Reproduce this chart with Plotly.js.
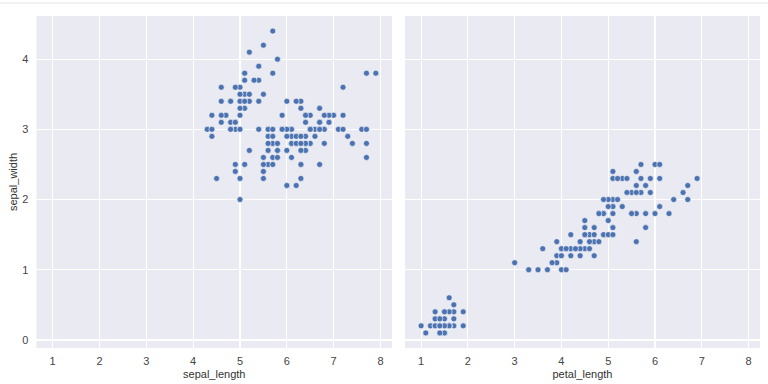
<!DOCTYPE html>
<html><head><meta charset="utf-8">
<script src="https://cdn.plot.ly/plotly-3.0.1.min.js"></script>
<style>html,body{margin:0;padding:0;background:#fff;}#chart{width:768px;height:384px;}</style>
</head><body><div id="chart"></div>
<script>
const sepal_length=[5.1,4.9,4.7,4.6,5.0,5.4,4.6,5.0,4.4,4.9,5.4,4.8,4.8,4.3,5.8,5.7,5.4,5.1,5.7,5.1,5.4,5.1,4.6,5.1,4.8,5.0,5.0,5.2,5.2,4.7,4.8,5.4,5.2,5.5,4.9,5.0,5.5,4.9,4.4,5.1,5.0,4.5,4.4,5.0,5.1,4.8,5.1,4.6,5.3,5.0,
7.0,6.4,6.9,5.5,6.5,5.7,6.3,4.9,6.6,5.2,5.0,5.9,6.0,6.1,5.6,6.7,5.6,5.8,6.2,5.6,5.9,6.1,6.3,6.1,6.4,6.6,6.8,6.7,6.0,5.7,5.5,5.5,5.8,6.0,5.4,6.0,6.7,6.3,5.6,5.5,5.5,6.1,5.8,5.0,5.6,5.7,5.7,6.2,5.1,5.7,
6.3,5.8,7.1,6.3,6.5,7.6,4.9,7.3,6.7,7.2,6.5,6.4,6.8,5.7,5.8,6.4,6.5,7.7,7.7,6.0,6.9,5.6,7.7,6.3,6.7,7.2,6.2,6.1,6.4,7.2,7.4,7.9,6.4,6.3,6.1,7.7,6.3,6.4,6.0,6.9,6.7,6.9,5.8,6.8,6.7,6.7,6.3,6.5,6.2,5.9];
const sepal_width=[3.5,3.0,3.2,3.1,3.6,3.9,3.4,3.4,2.9,3.1,3.7,3.4,3.0,3.0,4.0,4.4,3.9,3.5,3.8,3.8,3.4,3.7,3.6,3.3,3.4,3.0,3.4,3.5,3.4,3.2,3.1,3.4,4.1,4.2,3.1,3.2,3.5,3.6,3.0,3.4,3.5,2.3,3.2,3.5,3.8,3.0,3.8,3.2,3.7,3.3,
3.2,3.2,3.1,2.3,2.8,2.8,3.3,2.4,2.9,2.7,2.0,3.0,2.2,2.9,2.9,3.1,3.0,2.7,2.2,2.5,3.2,2.8,2.5,2.8,2.9,3.0,2.8,3.0,2.9,2.6,2.4,2.4,2.7,2.7,3.0,3.4,3.1,2.3,3.0,2.5,2.6,3.0,2.6,2.3,2.7,3.0,2.9,2.9,2.5,2.8,
3.3,2.7,3.0,2.9,3.0,3.0,2.5,2.9,2.5,3.6,3.2,2.7,3.0,2.5,2.8,3.2,3.0,3.8,2.6,2.2,3.2,2.8,2.8,2.7,3.3,3.2,2.8,3.0,2.8,3.0,2.8,3.8,2.8,2.8,2.6,3.0,3.4,3.1,3.0,3.1,3.1,3.1,2.7,3.2,3.3,3.0,2.5,3.0,3.4,3.0];
const petal_length=[1.4,1.4,1.3,1.5,1.4,1.7,1.4,1.5,1.4,1.5,1.5,1.6,1.4,1.1,1.2,1.5,1.3,1.4,1.7,1.5,1.7,1.5,1.0,1.7,1.9,1.6,1.6,1.5,1.4,1.6,1.6,1.5,1.5,1.4,1.5,1.2,1.3,1.4,1.3,1.5,1.3,1.3,1.3,1.6,1.9,1.4,1.6,1.4,1.5,1.4,
4.7,4.5,4.9,4.0,4.6,4.5,4.7,3.3,4.6,3.9,3.5,4.2,4.0,4.7,3.6,4.4,4.5,4.1,4.5,3.9,4.8,4.0,4.9,4.7,4.3,4.4,4.8,5.0,4.5,3.5,3.8,3.7,3.9,5.1,4.5,4.5,4.7,4.4,4.1,4.0,4.4,4.6,4.0,3.3,4.2,4.2,4.2,4.3,3.0,4.1,
6.0,5.1,5.9,5.6,5.8,6.6,4.5,6.3,5.8,6.1,5.1,5.3,5.5,5.0,5.1,5.3,5.5,6.7,6.9,5.0,5.7,4.9,6.7,4.9,5.7,6.0,4.8,4.9,5.6,5.8,6.1,6.4,5.6,5.1,5.6,6.1,5.6,5.5,4.8,5.4,5.6,5.1,5.1,5.9,5.7,5.2,5.0,5.2,5.4,5.1];
const petal_width=[0.2,0.2,0.2,0.2,0.2,0.4,0.3,0.2,0.2,0.1,0.2,0.2,0.1,0.1,0.2,0.4,0.4,0.3,0.3,0.3,0.2,0.4,0.2,0.5,0.2,0.2,0.4,0.2,0.2,0.2,0.2,0.4,0.1,0.2,0.2,0.2,0.2,0.1,0.2,0.2,0.3,0.3,0.2,0.6,0.4,0.3,0.2,0.2,0.2,0.2,
1.4,1.5,1.5,1.3,1.5,1.3,1.6,1.0,1.3,1.4,1.0,1.5,1.0,1.4,1.3,1.4,1.5,1.0,1.5,1.1,1.8,1.3,1.5,1.2,1.3,1.4,1.4,1.7,1.5,1.0,1.1,1.0,1.2,1.6,1.5,1.6,1.5,1.3,1.3,1.3,1.2,1.4,1.2,1.0,1.3,1.2,1.3,1.3,1.1,1.3,
2.5,1.9,2.1,1.8,2.2,2.1,1.7,1.8,1.8,2.5,2.0,1.9,2.1,2.0,2.4,2.3,1.8,2.2,2.3,1.5,2.3,2.0,2.0,1.8,2.1,1.8,1.8,1.8,2.1,1.6,1.9,2.0,2.2,1.5,1.4,2.3,2.4,1.8,1.8,2.1,2.4,2.3,1.9,2.3,2.5,2.3,1.9,2.0,2.3,1.8];
const xTicks=[1,2,3,4,5,6,7,8];
const yTicks=[0,1,2,3,4];

const marker={color:'#4c72b0',size:6,line:{color:'#ffffff',width:0.6}};
const traces=[
 {type:'scatter',mode:'markers',x:sepal_length,y:sepal_width,xaxis:'x',yaxis:'y',marker:marker,hoverinfo:'skip'},
 {type:'scatter',mode:'markers',x:petal_length,y:petal_width,xaxis:'x2',yaxis:'y',marker:marker,hoverinfo:'skip'}
];
const font={family:'"Liberation Sans", Arial, sans-serif',size:11,color:'#333333'};
const xbase={range:[0.655,8.245],tickvals:xTicks,ticks:'outside',ticklen:3,tickcolor:'rgba(0,0,0,0)',showline:false,zeroline:false,gridcolor:'#ffffff',gridwidth:1.2,tickfont:{size:11,color:'#444444'}};
const layout={
 width:768,height:384,margin:{l:0,r:0,t:0,b:0},
 paper_bgcolor:'#ffffff',plot_bgcolor:'#eaeaf2',showlegend:false,font:font,
 xaxis:Object.assign({},xbase,{domain:[0.0475,0.5104],anchor:'y',title:{text:'sepal_length',standoff:4,font:{size:11,color:'#333333'}}}),
 xaxis2:Object.assign({},xbase,{domain:[0.5273,0.9896],anchor:'y',title:{text:'petal_length',standoff:4,font:{size:11,color:'#333333'}}}),
 yaxis:{domain:[0.0938,0.9583],range:[-0.115,4.615],tickvals:yTicks,ticks:'outside',ticklen:5,tickcolor:'rgba(0,0,0,0)',showline:false,zeroline:false,gridcolor:'#ffffff',gridwidth:1.2,tickfont:{size:11,color:'#444444'},title:{text:'sepal_width',standoff:2,font:{size:11,color:'#333333'}}},
 shapes:[
  {type:'line',xref:'paper',yref:'paper',x0:0,x1:1,y0:1-3/384,y1:1-3/384,line:{color:'#e3e3e3',width:1}}
 ]
};
Plotly.newPlot('chart',traces,layout,{staticPlot:true,displayModeBar:false});
</script></body></html>
